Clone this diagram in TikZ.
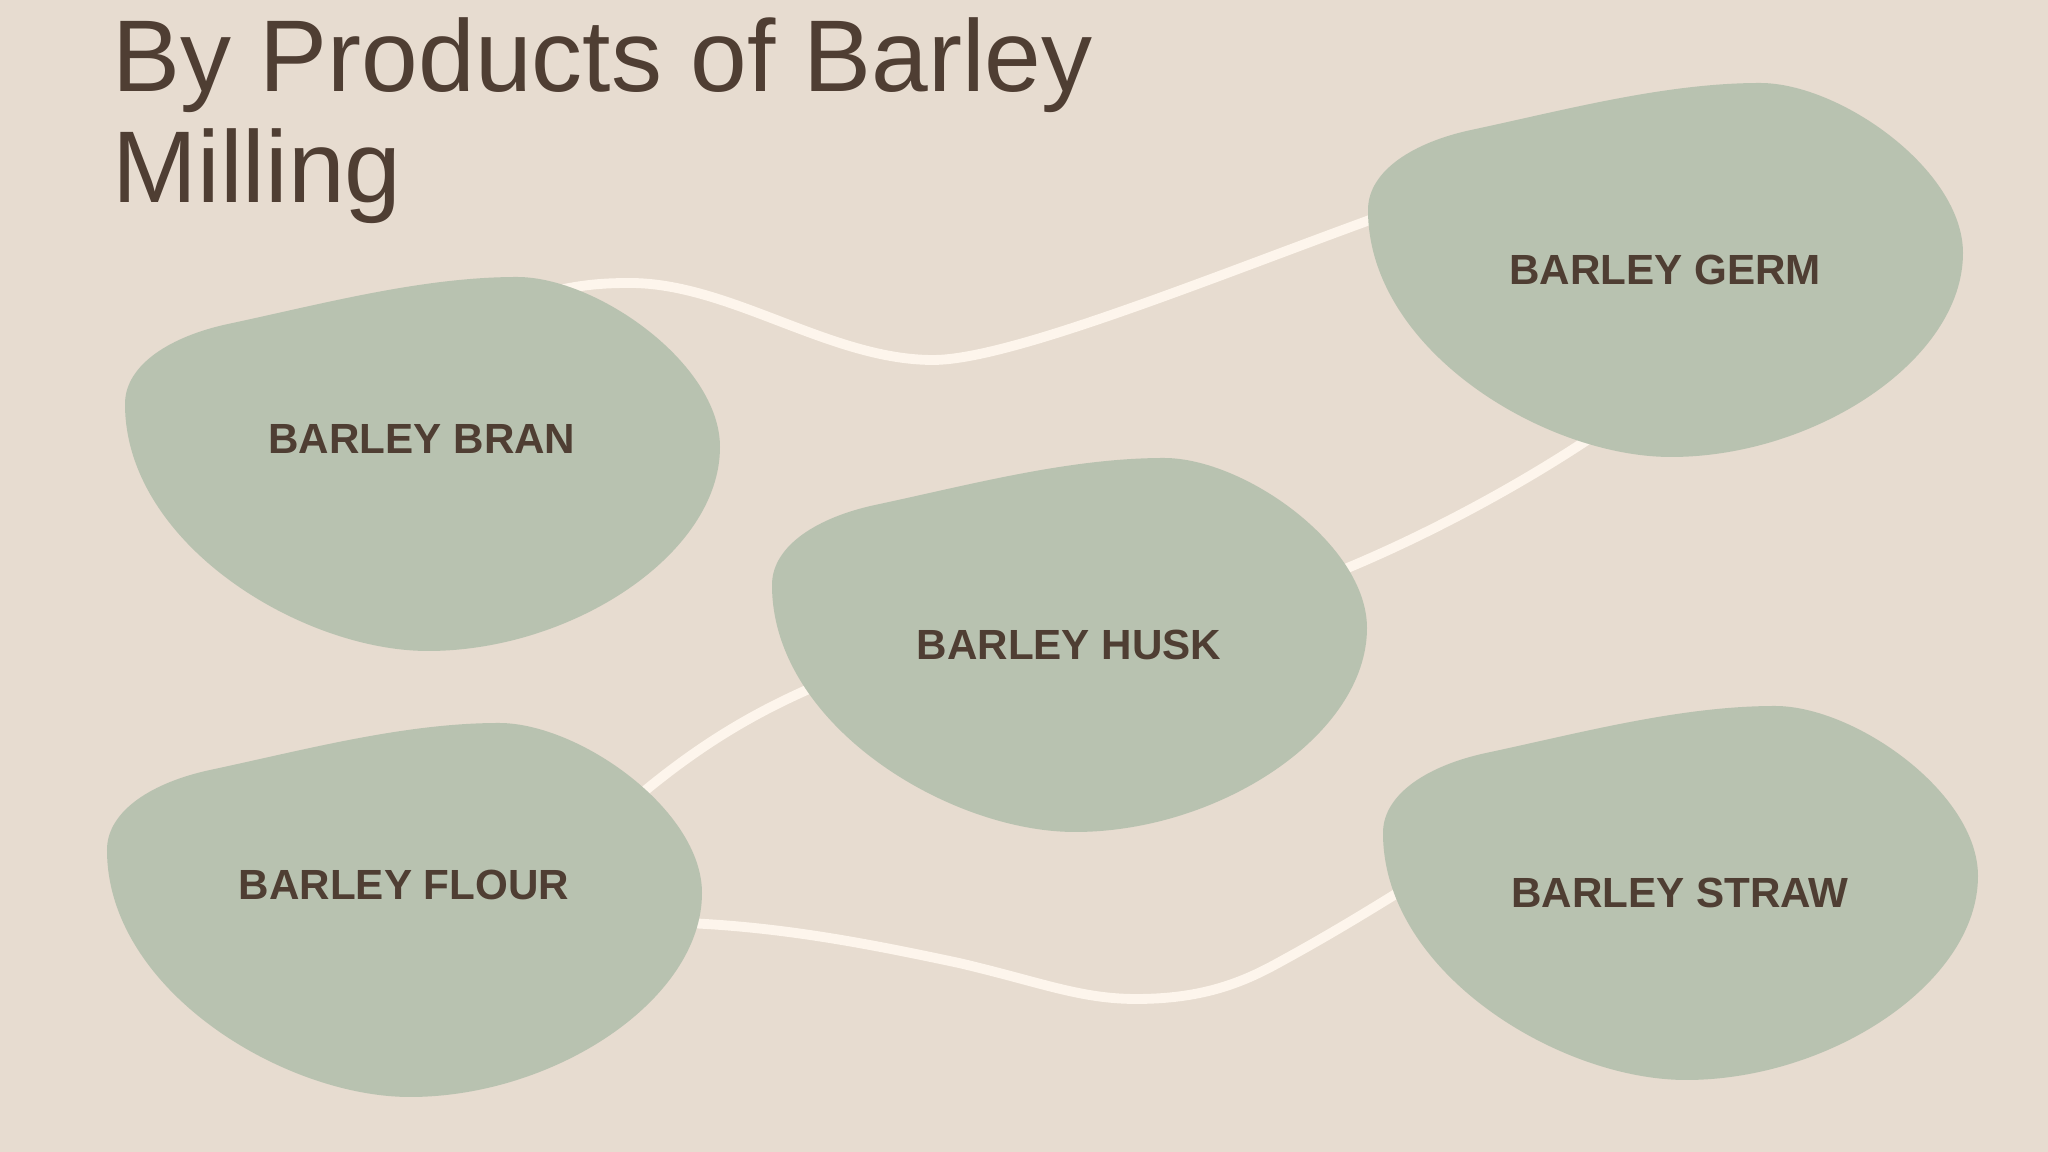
\documentclass[tikz,border=0pt]{standalone}
\usepackage{fontspec}
\setmainfont{Liberation Sans}
\usetikzlibrary{calc,positioning}
\definecolor{bgbeige}{HTML}{E7DCD0}
\definecolor{blobgreen}{HTML}{B8C2B0}
\definecolor{linecream}{HTML}{FDF5EC}
\definecolor{textbrown}{HTML}{4F3E33}
\tikzset{%
	heading/.style   = {anchor=north west, align=left, inner sep=0pt, text=textbrown, font=\fontsize{29}{31.6}\selectfont},
	itemtext/.style  = {text=textbrown, font=\fontsize{12}{14}\selectfont\bfseries}, % Blob label
	connector/.style = {draw=linecream, line width=2.8pt, line cap=round},
	blob/.pic        = {\fill[blobgreen] (0.95,1.87) .. controls (1.75,1.87) and (2.98,1.00) .. (2.98,0.17)
		.. controls (2.98,-0.90) and (1.50,-1.87) .. (0.06,-1.87)
		.. controls (-1.20,-1.87) and (-2.97,-0.80) .. (-2.97,0.60)
		.. controls (-2.97,1.00) and (-2.50,1.28) .. (-1.94,1.40)
		.. controls (-1.00,1.60) and (0.00,1.87) .. (0.95,1.87) -- cycle;},
}
\begin{document}
\begin{tikzpicture}
	\fill[bgbeige] (0,0) rectangle (20.48,11.52);
	\useasboundingbox (0,0) rectangle (20.48,11.52);
	% blob centres
	\coordinate (c-bran)  at (4.22,6.88);
	\coordinate (c-germ)  at (16.65,8.82);
	\coordinate (c-husk)  at (10.69,5.07);
	\coordinate (c-flour) at (4.04,2.42);
	\coordinate (c-straw) at (16.80,2.59);
	% connector ends, hidden under the blobs
	\coordinate (bran-out)  at (5.45,8.59);
	\coordinate (germ-in)   at (14.40,9.57);
	\coordinate (germ-out)  at (16.30,7.42);
	\coordinate (husk-in)   at (12.90,5.62);
	\coordinate (husk-out)  at (8.50,4.80);
	\coordinate (flour-in)  at (6.00,3.22);
	\coordinate (flour-out) at (6.40,2.30);
	\coordinate (straw-in)  at (14.50,2.92);
	\draw[connector] (bran-out) .. controls (5.80,8.67) and (6.00,8.69) .. (6.30,8.69)
		.. controls (7.30,8.69) and (8.30,7.92) .. (9.33,7.92)
		.. controls (10.20,7.92) and (12.60,8.95) .. (germ-in);
	\draw[connector] (germ-out) .. controls (15.40,6.75) and (14.00,6.00) .. (husk-in);
	\draw[connector] (husk-out) .. controls (7.60,4.45) and (6.90,4.05) .. (flour-in);
	\draw[connector] (flour-out) .. controls (7.60,2.30) and (8.60,2.10) .. (9.59,1.89)
		.. controls (10.40,1.70) and (10.80,1.53) .. (11.36,1.53)
		.. controls (12.00,1.53) and (12.40,1.68) .. (12.78,1.89)
		.. controls (13.20,2.12) and (13.60,2.35) .. (straw-in);
	% blobs
	\foreach \c in {bran,germ,husk,flour,straw}
		\pic at (c-\c) {blob};
	% labels
	\node[itemtext] (bran)  at ($(c-bran)+(0,0.25)$)  {BARLEY BRAN};
	\node[itemtext] (germ)  at (c-germ)                {BARLEY GERM};
	\node[itemtext] (husk)  at (c-husk)                {BARLEY HUSK};
	\node[itemtext] (flour) at ($(c-flour)+(0,0.25)$) {BARLEY FLOUR};
	\node[itemtext] (straw) at (c-straw)               {BARLEY STRAW};
	\node[heading] (title) at (1.12,11.35) {By Products of Barley\\Milling};
\end{tikzpicture}
\end{document}
